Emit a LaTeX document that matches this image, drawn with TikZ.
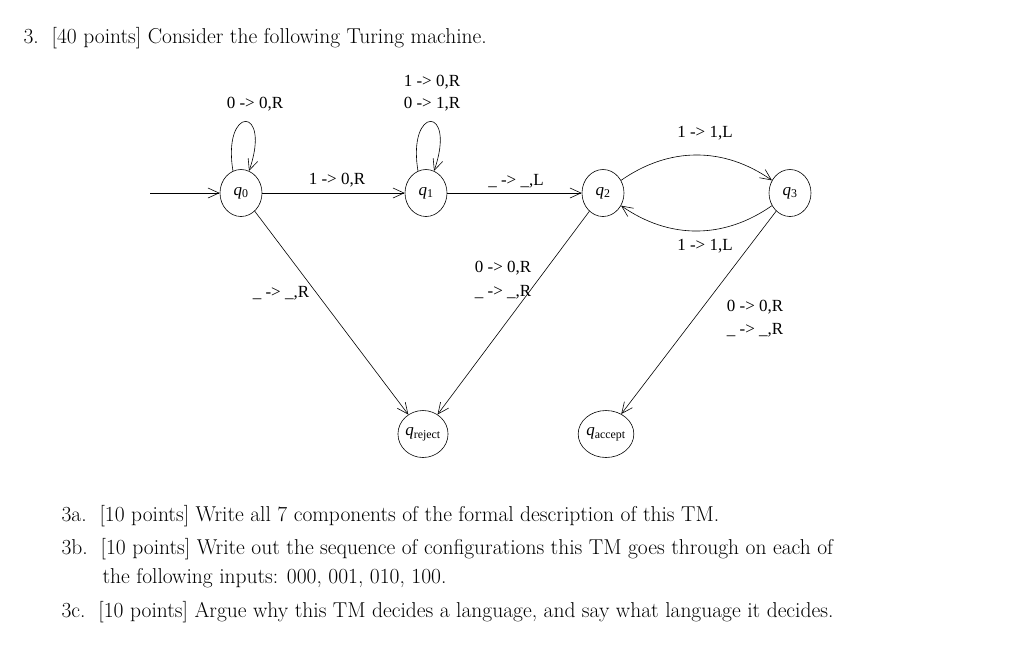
\documentclass[tikz,border=0pt]{standalone}
\usepackage{fontspec}
\newfontfamily\timesf{Liberation Serif}
\usetikzlibrary{arrows.meta,shapes.geometric}
\newcommand{\qq}[1]{\textit{q}\textsubscript{#1}}
\begin{document}
\begin{tikzpicture}[x=1pt,y=-1pt,
  st/.style={draw,ellipse,minimum width=42pt,minimum height=47pt,inner sep=0pt,line width=0.6pt,font=\timesf\fontsize{17}{17}\selectfont},
  lbl/.style={font=\timesf\fontsize{17}{19}\selectfont},
  txt/.style={anchor=west,font=\fontsize{21.5}{25}\selectfont},
  tr/.style={line width=0.6pt,-{Straight Barb[length=11pt,width=10pt,line width=0.6pt]}}]
\useasboundingbox (0,0) rectangle (1024,646);
\node[txt] (title) at (20,38) {3.\ \ [40 points] Consider the following Turing machine.};
\node[st] (q0) at (241,193) {\qq{0}};
\node[st] (q1) at (426,193) {\qq{1}};
\node[st] (q2) at (603,193) {\qq{2}};
\node[st] (q3) at (790,193) {\qq{3}};
\node[st] (qr) at (423,434) {\qq{reject}};
\node[st] (qa) at (606,434) {\qq{accept}};
\coordinate (s) at (150,193);
\draw[tr] (s) -- (q0);
\draw[tr] (q0) -- (q1);
\draw[tr] (q1) -- (q2);
\draw[tr] (q2) to[bend left=35] (q3);
\draw[tr] (q3) to[bend left=35] (q2);
\draw[tr] (q0) -- (qr);
\draw[tr] (q2) -- (qr);
\draw[tr] (q3) -- (qa);
\draw[tr] (q0.110) .. controls (222,105) and (272,105) .. (q0.70);
\draw[tr] (q1.110) .. controls (407,105) and (457,105) .. (q1.70);
\node[lbl] (l1) at (255,104) {0 -{}> 0,R};
\node[lbl] (l2) at (432,82) {1 -{}> 0,R};
\node[lbl] (l3) at (432,104) {0 -{}> 1,R};
\node[lbl] (l4) at (337,180) {1 -{}> 0,R};
\node[lbl] (l5) at (516,181) {\_ -{}> \_,L};
\node[lbl] (l6) at (705,133) {1 -{}> 1,L};
\node[lbl] (l7) at (705,246) {1 -{}> 1,L};
\node[lbl] (l8) at (281,293) {\_ -{}> \_,R};
\node[lbl] (l9) at (503,268) {0 -{}> 0,R};
\node[lbl] (l10) at (503,292) {\_ -{}> \_,R};
\node[lbl] (l11) at (755,307) {0 -{}> 0,R};
\node[lbl] (l12) at (755,330) {\_ -{}> \_,R};
\node[txt] (a) at (58,516) {3a.\ \ [10 points] Write all 7 components of the formal description of this TM.};
\node[txt] (b) at (58,549) {3b.\ \ [10 points] Write out the sequence of configurations this TM goes through on each of};
\node[txt] (b2) at (99,578) {the following inputs: 000, 001, 010, 100.};
\node[txt] (c) at (58,612) {3c.\ \ [10 points] Argue why this TM decides a language, and say what language it decides.};
\end{tikzpicture}
\end{document}
